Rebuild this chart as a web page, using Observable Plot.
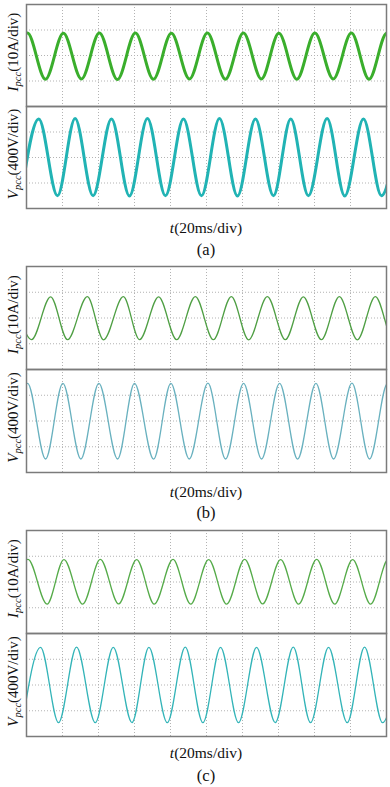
<!DOCTYPE html>
<html>
<head>
<meta charset="utf-8">
<script src="https://cdn.jsdelivr.net/npm/d3@7"></script>
<script src="https://cdn.jsdelivr.net/npm/@observablehq/plot@0.6"></script>
<style>
  body { margin: 0; background: #fff; }
  #root { position: relative; width: 390px; height: 787px; overflow: hidden;
          font-family: "Liberation Serif", "Times New Roman", serif; color: #111; }
  .panel { position: absolute; left: 0; }
  .cap { position: absolute; left: 26px; width: 360px; text-align: center; line-height: 18px; white-space: nowrap; }
</style>
</head>
<body>
<div id="root"></div>
<script>
// ---- tick / label data ----
const gridMs = [20, 40, 60, 80, 100, 120, 140, 160, 180];   // 20 ms/div
const gridDiv = [-1, 0, 1];
const xTitleItalic = "t";
const xTitleRest = "(20ms/div)";
const panelNames = ["(a)", "(b)", "(c)"];
const iLabel = ["I", "pcc", "(10A/div)"];
const vLabel = ["V", "pcc", "(400V/div)"];
const iPerDiv = 10;   // A per division
const vPerDiv = 400;  // V per division

// ---- waveform extrema (time in ms, value in A or V) ----
// (a)
const iaT = [-9.5, 0.5, 10.5, 20.5, 30.5, 40.5, 50.5, 60.5, 70.5, 80.5, 90.5, 100.5, 110.5, 120.5, 130.5, 140.2, 150.2, 160.2, 170.4, 180.5, 190.3, 200.2, 210.2];
const iaV = [-9.2, 8.8, -9.3, 8.7, -9.2, 8.8, -9.4, 8.8, -9.3, 8.7, -9.2, 8.8, -9.3, 8.8, -9.2, 8.7, -9.3, 8.8, -9.2, 8.8, -9.3, 8.8, -9.2];
const vaT = [-3, 6.8, 17.2, 27, 37, 47.2, 57.2, 67.2, 77.2, 87.2, 97.2, 107.2, 117.2, 127.2, 137.2, 146.8, 156.6, 167, 176.8, 187.2, 197.2, 207.2];
const vaV = [-600, 605, -600, 610, -600, 605, -605, 610, -600, 605, -600, 610, -605, 605, -600, 605, -600, 610, -605, 605, -600, 605];
// (b)
const ibT = [-6.4, 2.8, 13.4, 22.8, 33.8, 42.8, 53.8, 62.8, 73.4, 83.4, 93.8, 103.8, 113.8, 123.4, 133.8, 143.8, 153.8, 163.8, 173.8, 183.8, 193.8, 203.8, 213.8];
const ibV = [8.3, -8.4, 8.2, -8.4, 8.3, -8.5, 8.3, -8.4, 8.2, -8.4, 8.3, -8.4, 8.3, -8.5, 8.3, -8.4, 8.2, -8.4, 8.3, -8.5, 8.3, -8.4, 8.3];
const vbT = [-9.6, 0.6, 10.6, 20.2, 30.2, 40.2, 50.6, 60, 70.6, 80.2, 90.4, 100.8, 110.6, 120.6, 130.6, 140.6, 150.6, 160.8, 170.6, 180.8, 190.6, 200.6, 210.6];
const vbV = [-590, 585, -590, 585, -590, 585, -590, 585, -592, 585, -590, 587, -590, 585, -590, 585, -592, 585, -590, 587, -590, 585, -590];
// (c)
const icT = [-9, 0.8, 11.4, 20.8, 31.2, 41, 51.2, 61.2, 71, 81.4, 91.2, 101.2, 111.2, 121.2, 131.2, 141.2, 151.2, 161.2, 171.2, 181.2, 191.2, 201, 211];
const icV = [-8.6, 8.8, -8.6, 8.7, -8.6, 8.8, -8.5, 8.7, -8.6, 8.8, -8.6, 8.7, -8.6, 8.8, -8.5, 8.7, -8.6, 8.8, -8.6, 8.7, -8.6, 8.8, -8.6];
const vcT = [-2.2, 7.8, 17.8, 27.8, 38.2, 48.2, 58.6, 68, 78.2, 88.2, 98, 107.8, 117.8, 127.8, 138.2, 148.2, 157.8, 167.8, 178.2, 187.8, 197.8, 207.8];
const vcV = [-585, 585, -585, 588, -585, 585, -583, 585, -585, 588, -585, 585, -585, 585, -583, 588, -585, 585, -585, 588, -585, 585];

// ---- layout / style ----
const panels = [
  { name: panelNames[0], iT: iaT, iV: iaV, vT: vaT, vV: vaV, top: 1,   h: 209, iColor: "#3aae2c", vColor: "#21b3b4", sw: 3.0, xCap: 228, nCap: 250 },
  { name: panelNames[1], iT: ibT, iV: ibV, vT: vbT, vV: vbV, top: 263, h: 211, iColor: "#4f9f44", vColor: "#69b1bf", sw: 1.3, xCap: 492, nCap: 513 },
  { name: panelNames[2], iT: icT, iV: icV, vT: vcT, vV: vcV, top: 528, h: 210, iColor: "#55ab49", vColor: "#33b4b8", sw: 1.3, xCap: 753, nCap: 776 }
];

const root = document.getElementById("root");
const FONT = '"Liberation Serif", "Times New Roman", serif';

function rows(sig, T, V, perDiv) {
  return T.map((t, i) => ({ sig, t, y: V[i] / perDiv }));
}

for (const p of panels) {
  const iRows = rows("I", p.iT, p.iV, iPerDiv);
  const vRows = rows("V", p.vT, p.vV, vPerDiv);
  const gridStyle = { stroke: "#b3b3b3", strokeOpacity: 1, strokeWidth: 1, strokeDasharray: "1,2" };
  const chart = Plot.plot({
    width: 390,
    height: p.h,
    marginLeft: 26, marginRight: 4, marginTop: 2, marginBottom: 2,
    x: { domain: [0, 200], axis: null },
    y: { domain: [-2, 2], axis: null },
    fy: { domain: ["I", "V"], padding: 0, axis: null },
    style: { background: "transparent", overflow: "visible" },
    marks: [
      Plot.gridX(gridMs, gridStyle),
      Plot.gridY(gridDiv, gridStyle),
      Plot.line(iRows, { x: "t", y: "y", fy: "sig", stroke: p.iColor, strokeWidth: p.sw, curve: "monotone-x", clip: true }),
      Plot.line(vRows, { x: "t", y: "y", fy: "sig", stroke: p.vColor, strokeWidth: p.sw, curve: "monotone-x", clip: true }),
      Plot.frame({ stroke: "#7b7b7b", strokeWidth: 1.5 })
    ]
  });

  // rotated y labels with subscripts
  const fy = chart.scale("fy");
  const svg = d3.select(chart);
  [["I", iLabel], ["V", vLabel]].forEach(([key, parts], idx) => {
    let c;
    if (fy && typeof fy.apply === "function") c = fy.apply(key) + fy.bandwidth / 2;
    else c = 2 + (p.h - 4) * (idx + 0.5) / 2;
    c -= 3;
    const t = svg.append("text")
      .attr("transform", `translate(18,${c}) rotate(-90)`)
      .attr("text-anchor", "middle")
      .attr("fill", "#111")
      .style("font-family", FONT)
      .style("font-size", "15px");
    t.append("tspan").attr("font-style", "italic").text(parts[0]);
    t.append("tspan").attr("font-style", "italic").attr("font-size", "10.5px").attr("dy", 3).text(parts[1]);
    t.append("tspan").attr("dy", -3).text(parts[2]);
  });

  const wrap = document.createElement("div");
  wrap.className = "panel";
  wrap.style.top = p.top + "px";
  wrap.appendChild(chart);
  root.appendChild(wrap);

  const xc = document.createElement("div");
  xc.className = "cap";
  xc.style.top = (p.xCap - 9) + "px";
  xc.style.fontSize = "15.5px";
  const it = document.createElement("i");
  it.textContent = xTitleItalic;
  xc.appendChild(it);
  xc.appendChild(document.createTextNode(xTitleRest));
  root.appendChild(xc);

  const nc = document.createElement("div");
  nc.className = "cap";
  nc.style.top = (p.nCap - 9) + "px";
  nc.style.fontSize = "16.5px";
  nc.textContent = p.name;
  root.appendChild(nc);
}
</script>
</body>
</html>
